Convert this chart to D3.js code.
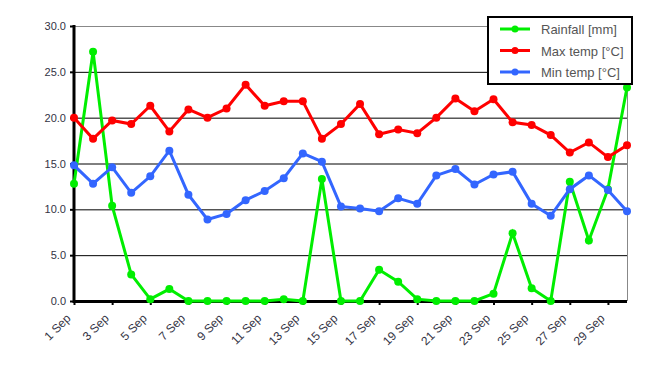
<!DOCTYPE html>
<html>
<head>
<meta charset="utf-8">
<script src="https://cdn.jsdelivr.net/npm/d3@7"></script>
<style>
  body { margin: 0; background: #fff; }
  text { font-family: "Liberation Sans", Arial, sans-serif; }
</style>
</head>
<body>
<div id="chart"></div>
<script>
var svgWidth = 648;
var svgHeight = 366;

// days of September
var days = d3.range(1, 31);
var tickDays = [1, 3, 5, 7, 9, 11, 13, 15, 17, 19, 21, 23, 25, 27, 29];
var yTicks = [0, 5, 10, 15, 20, 25, 30];

var rainfall = [12.8, 27.2, 10.4, 2.9, 0.2, 1.3, 0.0, 0.0, 0.0, 0.0,
                0.0, 0.2, 0.0, 13.3, 0.0, 0.0, 3.4, 2.1, 0.2, 0.0,
                0.0, 0.0, 0.8, 7.4, 1.4, 0.0, 13.0, 6.6, 12.2, 23.3];
var maxTemp = [20.0, 17.7, 19.7, 19.3, 21.3, 18.5, 20.9, 20.0, 21.0, 23.6,
               21.3, 21.8, 21.8, 17.7, 19.3, 21.5, 18.2, 18.7, 18.3, 20.0,
               22.1, 20.7, 22.0, 19.5, 19.2, 18.1, 16.2, 17.3, 15.7, 17.0];
var minTemp = [14.8, 12.8, 14.6, 11.8, 13.6, 16.4, 11.6, 8.9, 9.5, 11.0,
               12.0, 13.4, 16.1, 15.2, 10.3, 10.1, 9.8, 11.2, 10.6, 13.7,
               14.4, 12.7, 13.8, 14.1, 10.6, 9.3, 12.2, 13.7, 12.1, 9.8];

var series = [
  { name: "Rainfall [mm]", values: rainfall, color: "#00ee00" },
  { name: "Max temp [\u00b0C]", values: maxTemp, color: "#ff0000" },
  { name: "Min temp [\u00b0C]", values: minTemp, color: "#3366ff" }
];

var plot = { left: 74, right: 627, top: 26, bottom: 301 };

var svg = d3.select("#chart")
  .append("svg")
  .attr("width", svgWidth)
  .attr("height", svgHeight);

var x = d3.scaleLinear().domain([1, 30]).range([plot.left, plot.right]);
var y = d3.scaleLinear().domain([0, 30]).range([plot.bottom, plot.top]);

// gridlines
svg.append("g").selectAll("line")
  .data(yTicks.filter(d => d > 0))
  .enter()
  .append("line")
  .attr("x1", plot.left)
  .attr("x2", plot.right)
  .attr("y1", d => y(d) + 0.5)
  .attr("y2", d => y(d) + 0.5)
  .attr("stroke", d => d === 30 ? "#888" : "#000")
  .attr("stroke-width", 1);

// right border
svg.append("line")
  .attr("x1", plot.right + 0.5).attr("x2", plot.right + 0.5)
  .attr("y1", plot.top).attr("y2", plot.bottom)
  .attr("stroke", "#888");

// y axis
var yAxis = svg.append("g")
  .attr("transform", `translate(${plot.left}, 0)`)
  .call(d3.axisLeft(y).tickValues(yTicks).tickFormat(d3.format(".1f")).tickSize(4).tickPadding(4));
yAxis.select(".domain").remove();
yAxis.selectAll(".tick line").attr("stroke", "#000").attr("stroke-width", 2);
yAxis.selectAll(".tick text")
  .attr("fill", "#334")
  .style("font-size", "11px");

// x axis
var xAxis = svg.append("g")
  .attr("transform", `translate(0, ${plot.bottom})`)
  .call(d3.axisBottom(x).tickValues(tickDays).tickFormat(d => d + " Sep").tickSize(4));
xAxis.select(".domain").remove();
xAxis.selectAll(".tick line").attr("stroke", "#000").attr("stroke-width", 2);
xAxis.selectAll(".tick text")
  .attr("fill", "#334")
  .style("font-size", "12px")
  .attr("text-anchor", "end")
  .attr("dy", null)
  .attr("y", 0)
  .attr("transform", "translate(-3, 18) rotate(-45)");

// axis lines
svg.append("line")
  .attr("x1", plot.left).attr("x2", plot.left)
  .attr("y1", plot.top - 1).attr("y2", plot.bottom + 2)
  .attr("stroke", "#000").attr("stroke-width", 3);
svg.append("line")
  .attr("x1", plot.left).attr("x2", plot.right)
  .attr("y1", plot.bottom + 0.5).attr("y2", plot.bottom + 0.5)
  .attr("stroke", "#000").attr("stroke-width", 3);

// series lines and markers
var line = d3.line()
  .x((d, i) => x(days[i]))
  .y(d => y(d));

series.forEach(function(s) {
  var g = svg.append("g");
  g.append("path")
    .datum(s.values)
    .attr("d", line)
    .attr("fill", "none")
    .attr("stroke", s.color)
    .attr("stroke-width", 3);
  g.selectAll("circle")
    .data(s.values)
    .enter()
    .append("circle")
    .attr("cx", (d, i) => x(days[i]))
    .attr("cy", d => y(d))
    .attr("r", 4)
    .attr("fill", s.color);
});

// legend
var legend = svg.append("g").attr("transform", "translate(488, 17)");
legend.append("rect")
  .attr("x", 0).attr("y", 0)
  .attr("width", 144).attr("height", 67)
  .attr("fill", "#fff")
  .attr("stroke", "#000")
  .attr("stroke-width", 2);

var items = legend.selectAll(".item")
  .data(series)
  .enter()
  .append("g")
  .attr("class", "item")
  .attr("transform", (d, i) => `translate(0, ${12 + i * 21.5})`);
items.append("line")
  .attr("x1", 12).attr("x2", 42)
  .attr("y1", 0).attr("y2", 0)
  .attr("stroke", d => d.color)
  .attr("stroke-width", 3);
items.append("circle")
  .attr("cx", 27).attr("cy", 0).attr("r", 3.5)
  .attr("fill", d => d.color);
items.append("text")
  .attr("x", 53)
  .attr("y", 5)
  .attr("fill", "#555")
  .style("font-size", "13px")
  .text(d => d.name);
</script>
</body>
</html>
